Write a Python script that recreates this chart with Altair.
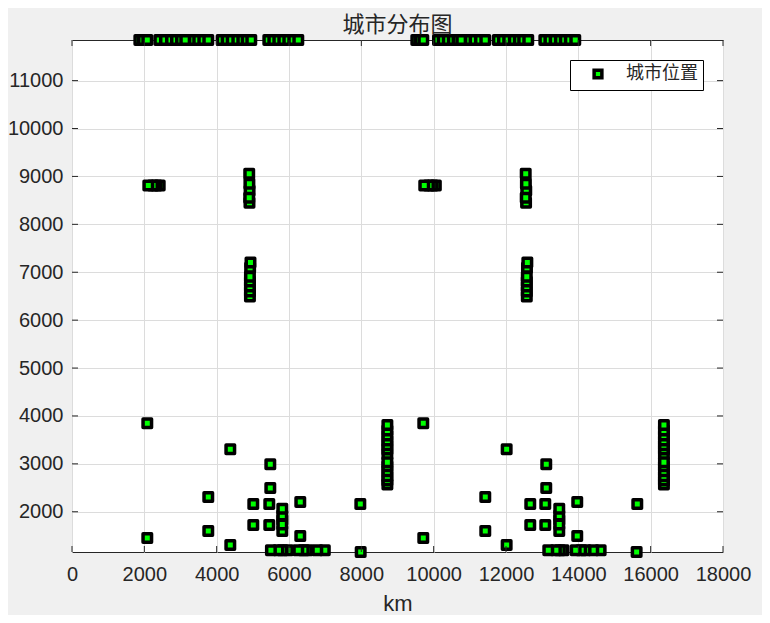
import altair as alt
import pandas as pd

# ---- data (km) ----
top_y = 11848
top_left_x = [1862, 1963, 2082, 2414, 2571, 2737, 2875, 3014, 3132, 3370, 3490, 3630, 3768,
              4138, 4277, 4415, 4570, 4708, 4830, 4957, 5428, 5566, 5704, 5842, 5980, 6118, 6257]
top_right_x = [9520, 9610, 9713, 10120, 10250, 10390, 10530, 10660, 10763, 11000, 11130, 11280, 11427,
               11775, 11915, 12060, 12215, 12355, 12475, 12615, 13060, 13200, 13345, 13490, 13625, 13765, 13915]

row88_y = 8812
row88_left_x = [2425, 2335, 2240, 2110]
row88_right_x = [10060, 9970, 9870, 9740]

upper_left_x = [4910, 4907, 4900, 4905, 4900]
upper_right_x = [12560, 12555, 12545, 12550, 12545]
upper_y = [8700, 8452, 8556, 8848, 9056]

lower_left_x = [4920, 4920, 4920, 4920, 4920, 4925, 4935]
lower_right_x = [12575, 12575, 12575, 12575, 12575, 12580, 12590]
lower_y = [6494, 6596, 6700, 6804, 6908, 7095, 7202]

vline_left_x = 8720
vline_right_x = 16367
vline_y = [2569, 2650, 2742, 2846, 2950, 3194, 3298, 3390, 3485, 3590, 3694, 3812, 3035]

col_left_x = 5815
col_right_x = 13473
col_y = [1600, 1830, 1735, 1923, 2062]

bottom_y = 1195
bottom_left_x = [6990, 6782, 6510, 6410, 6257, 5970, 5820, 5710, 5500]
bottom_right_x = [14617, 14413, 14200, 14080, 13926, 13590, 13490, 13380, 13169]

single_x = [2082, 2082, 4377, 3768, 3768, 4377, 5483, 5483, 5013, 5013, 5455, 5455, 6312, 6312, 7972, 7982,
            9713, 9713, 12018, 11427, 11427, 12018, 13113, 13113, 12671, 12671, 13086, 13086, 13970, 13970, 15630, 15612]
single_y = [3848, 1452, 3306, 2306, 1598, 1306, 2994, 2494, 2160, 1723, 2160, 1723, 2202, 1494, 2160, 1160,
            3848, 1452, 3306, 2306, 1598, 1306, 2994, 2494, 2160, 1723, 2160, 1723, 2202, 1494, 2160, 1160]

x_ticks = list(range(0, 18001, 2000))
y_ticks = list(range(2000, 11001, 1000))
x_domain = [0, 18000]
y_domain = [1160, 11848]

series_name = "城市位置"

xs, ys = [], []
def add(xl, yl):
    xs.extend(xl)
    ys.extend(yl)

add(top_left_x, [top_y] * len(top_left_x))
add(top_right_x, [top_y] * len(top_right_x))
add(row88_left_x, [row88_y] * len(row88_left_x))
add(row88_right_x, [row88_y] * len(row88_right_x))
add(upper_left_x, upper_y)
add(upper_right_x, upper_y)
add(lower_left_x, lower_y)
add(lower_right_x, lower_y)
add([vline_left_x] * len(vline_y), vline_y)
add([vline_right_x] * len(vline_y), vline_y)
add([col_left_x] * len(col_y), col_y)
add([col_right_x] * len(col_y), col_y)
add(bottom_left_x, [bottom_y] * len(bottom_left_x))
add(bottom_right_x, [bottom_y] * len(bottom_right_x))
add(single_x, single_y)

df = pd.DataFrame({"x": xs, "y": ys, "series": series_name, "idx": list(range(len(xs)))})
xt = pd.DataFrame({"x": x_ticks})
yt = pd.DataFrame({"y": y_ticks})

label_font = "Liberation Sans"
cjk_font = "Noto Sans CJK SC"
ink = "#262626"
W, H = 651, 512
TL = 6

xscale = alt.Scale(domain=x_domain, nice=False, zero=False)
yscale = alt.Scale(domain=y_domain, nice=False, zero=False)
x_axis = alt.Axis(values=x_ticks, title="km", format="d", labelOverlap=False,
                  labelFlush=False, labelPadding=12, titlePadding=9)
y_axis = alt.Axis(values=y_ticks, title=None, format="d", labelOverlap=False,
                  labelFlush=False, labelPadding=9)

points = alt.Chart(df).mark_point(
    shape="square", filled=True, size=72, stroke="black", strokeWidth=3.5,
    strokeJoin="round", opacity=1
).encode(
    x=alt.X("x:Q", scale=xscale, axis=x_axis),
    y=alt.Y("y:Q", scale=yscale, axis=y_axis),
    fill=alt.Fill("series:N", scale=alt.Scale(range=["#00ff00"]),
                  legend=alt.Legend(title=None, orient="none", legendX=498, legendY=20,
                                    fillColor="white", strokeColor="black", padding=5,
                                    symbolOffset=14, symbolType="square", symbolSize=60,
                                    symbolStrokeColor="black", symbolStrokeWidth=3.5,
                                    labelFont=cjk_font, labelFontSize=18, labelColor=ink,
                                    labelOffset=19, cornerRadius=0,
                                    labelExpr="datum.label + ' '")),
    order=alt.Order("idx:Q"),
)

tick_style = dict(color=ink, strokeWidth=1)
xt_bottom = alt.Chart(xt).mark_rule(**tick_style).encode(
    x=alt.X("x:Q", scale=xscale, axis=x_axis), y=alt.value(H), y2=alt.value(H - TL))
xt_top = alt.Chart(xt).mark_rule(**tick_style).encode(
    x=alt.X("x:Q", scale=xscale, axis=x_axis), y=alt.value(0), y2=alt.value(TL))
yt_left = alt.Chart(yt).mark_rule(**tick_style).encode(
    y=alt.Y("y:Q", scale=yscale, axis=y_axis), x=alt.value(0), x2=alt.value(TL))
yt_right = alt.Chart(yt).mark_rule(**tick_style).encode(
    y=alt.Y("y:Q", scale=yscale, axis=y_axis), x=alt.value(W), x2=alt.value(W - TL))

chart = alt.layer(points, xt_bottom, xt_top, yt_left, yt_right).properties(
    width=W, height=H,
    title=alt.TitleParams("城市分布图", font=cjk_font, fontSize=22, fontWeight="normal",
                          color=ink, offset=-3, anchor="middle"),
    padding={"left": 64, "top": 32, "right": 39, "bottom": 63},
    autosize=alt.AutoSizeParams(type="none"),
    background="#f0f0f0",
).configure_view(
    fill="white", stroke=ink, strokeWidth=1
).configure_axis(
    grid=True, gridColor="#dcdcdc", gridWidth=1, domain=False, ticks=False,
    labelFont=label_font, labelFontSize=20, labelColor=ink,
    titleFont=label_font, titleFontSize=22, titleColor=ink, titleFontWeight="normal"
)

chart.save("out.html", embed_options={"renderer": "svg", "actions": False})
